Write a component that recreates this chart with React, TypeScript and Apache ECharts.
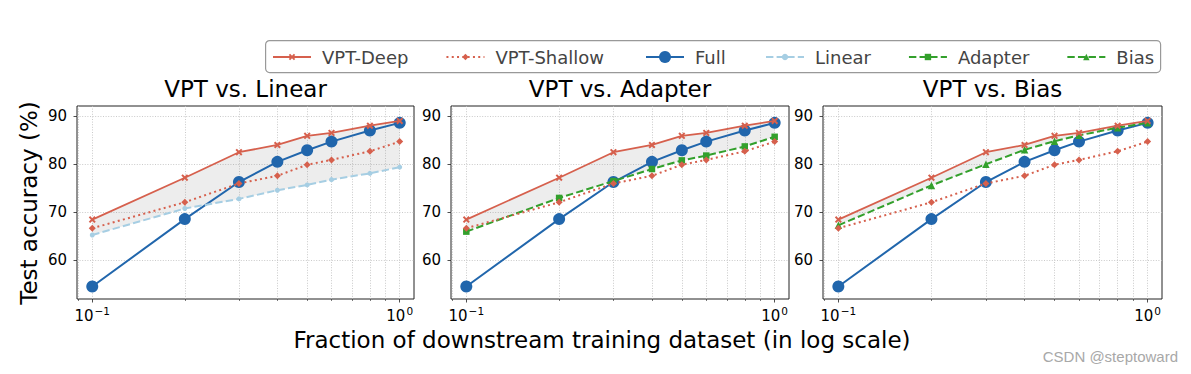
import React, { useEffect, useRef } from 'react';
import * as echarts from 'echarts';

// ---- data ----
const fractions = [0.1, 0.2, 0.3, 0.4, 0.5, 0.6, 0.8, 1.0];
const vptDeep = [68.5, 77.2, 82.5, 84.0, 85.9, 86.5, 88.0, 89.0];
const vptShallow = [66.7, 72.1, 76.0, 77.6, 79.9, 80.9, 82.7, 84.7];
const full = [54.6, 68.6, 76.3, 80.5, 82.9, 84.7, 87.0, 88.6];
const linear = [65.3, 70.8, 72.8, 74.6, 75.7, 76.8, 78.1, 79.4];
const adapter = [66.0, 73.0, 76.5, 79.0, 80.8, 81.8, 83.7, 85.7];
const bias = [67.3, 75.6, 80.0, 83.0, 84.8, 86.0, 87.6, 88.6];

const yTicks = [60, 70, 80, 90];
const xMajorTicks = [0.1, 1];
const xMinorTicks = [0.09, 0.2, 0.3, 0.4, 0.5, 0.6, 0.7, 0.8, 0.9];
const panelTitles = ['VPT vs. Linear', 'VPT vs. Adapter', 'VPT vs. Bias'];
const legendGroupA = ['VPT-Deep', 'VPT-Shallow'];
const legendGroupB = ['Full'];
const legendGroupC = ['Linear', 'Adapter', 'Bias'];

const FONT = 'DejaVu Sans';
const C_VPT = '#d6604d';
const C_FULL = '#2166ac';
const C_LINEAR = '#a6cee3';
const C_GREEN = '#33a02c';
const X_SYMBOL =
  'path://M2,0 L5,3 L8,0 L10,2 L7,5 L10,8 L8,10 L5,7 L2,10 L0,8 L3,5 L0,2 Z';

const baselines = [
  { name: 'Linear', values: linear, color: C_LINEAR, symbol: 'circle', size: 5, dash: [7.4, 3.2] },
  { name: 'Adapter', values: adapter, color: C_GREEN, symbol: 'rect', size: 6.5, dash: [7.4, 3.2] },
  { name: 'Bias', values: bias, color: C_GREEN, symbol: 'triangle', size: 7.5, dash: [7.4, 3.2] },
];

const gridLefts = [77, 451, 823];
const gridWidths = [337, 338, 339];
const GRID_TOP = 106;
const GRID_H = 193;
const X_MIN = 0.0892;
const X_MAX = 1.113;
const Y_MIN = 52;
const Y_MAX = 92.1;

const pairs = (vals: number[]) => fractions.map((x, k) => [x, vals[k]]);

function legendPart(names: string[], left: number, itemHeight: number) {
  return {
    data: names,
    top: 48,
    left,
    itemWidth: 38,
    itemHeight,
    itemGap: 37,
    padding: 0,
    selectedMode: false,
    textStyle: { fontSize: 18, fontFamily: FONT, color: '#444', padding: [0, 0, 0, 6] },
  };
}

function buildOption() {
  const grid: any[] = [];
  const xAxis: any[] = [];
  const yAxis: any[] = [];
  const series: any[] = [];
  const graphic: any[] = [];
  const gridLine = { show: true, lineStyle: { color: '#bdbdbd', width: 0.8, type: [1, 1.6] } };

  for (let i = 0; i < 3; i++) {
    grid.push({
      left: gridLefts[i],
      top: GRID_TOP,
      width: gridWidths[i],
      height: GRID_H,
      show: true,
      borderColor: '#222',
      borderWidth: 1,
      backgroundColor: 'transparent',
    });
    // main x axis (major ticks + labels)
    xAxis.push({
      type: 'log',
      logBase: 10,
      gridIndex: i,
      position: 'bottom',
      offset: 0,
      min: X_MIN,
      max: X_MAX,
      axisLine: { show: false, onZero: false },
      axisTick: { show: true, customValues: xMajorTicks, length: 3.5, lineStyle: { color: '#222', width: 0.8 } },
      axisLabel: {
        customValues: xMajorTicks,
        margin: 6,
        formatter: (v: number) => {
          const e = Math.round(Math.log10(v));
          return '{b|10}{s|' + (e < 0 ? '\u2212' + -e : String(e)) + '}';
        },
        rich: {
          b: { fontSize: 15, fontFamily: FONT, color: '#000', verticalAlign: 'bottom' },
          s: {
            fontSize: 10.5,
            fontFamily: FONT,
            color: '#000',
            verticalAlign: 'top',
            padding: [0, 0, 7.5, 1],
          },
        },
      },
      splitLine: gridLine,
    });
    // minor x axis (minor ticks + minor grid)
    xAxis.push({
      type: 'log',
      logBase: 10,
      gridIndex: i,
      position: 'bottom',
      offset: 0,
      min: X_MIN,
      max: X_MAX,
      axisLine: { show: false, onZero: false },
      axisTick: { show: true, customValues: xMinorTicks, length: 2, lineStyle: { color: '#222', width: 0.6 } },
      axisLabel: { show: false },
      splitLine: gridLine,
    });
    yAxis.push({
      type: 'value',
      gridIndex: i,
      min: Y_MIN,
      max: Y_MAX,
      axisLine: { show: false },
      axisTick: { show: true, customValues: yTicks, length: 3.5, lineStyle: { color: '#222', width: 0.8 } },
      axisLabel: { customValues: yTicks, fontSize: 15, fontFamily: FONT, color: '#000', margin: 10 },
      splitLine: gridLine,
    });

    const base = baselines[i];
    const xi = 2 * i;
    // shaded region between VPT-Deep and the baseline
    series.push({
      type: 'custom',
      xAxisIndex: xi,
      yAxisIndex: i,
      silent: true,
      z: 1,
      encode: { x: 0, y: [1, 2] },
      data: fractions.map((x, k) => [x, vptDeep[k], base.values[k]]),
      renderItem: (params: any, api: any) => {
        if (params.dataIndex !== 0) return null;
        const top = fractions.map((x, k) => api.coord([x, vptDeep[k]]));
        const bot = fractions.map((x, k) => api.coord([x, base.values[k]])).reverse();
        return {
          type: 'polygon',
          shape: { points: top.concat(bot) },
          style: { fill: 'rgba(128,128,128,0.14)', stroke: 'none' },
        };
      },
    });
    series.push({
      name: 'Full',
      type: 'line',
      xAxisIndex: xi,
      yAxisIndex: i,
      data: pairs(full),
      symbol: 'circle',
      symbolSize: 12,
      lineStyle: { color: C_FULL, width: 2 },
      itemStyle: { color: C_FULL },
      z: 2,
    });
    series.push({
      name: base.name,
      type: 'line',
      xAxisIndex: xi,
      yAxisIndex: i,
      data: pairs(base.values),
      symbol: base.symbol,
      symbolSize: base.size,
      lineStyle: { color: base.color, width: 2, type: base.dash },
      itemStyle: { color: base.color },
      z: 3,
    });
    series.push({
      name: 'VPT-Deep',
      type: 'line',
      xAxisIndex: xi,
      yAxisIndex: i,
      data: pairs(vptDeep),
      symbol: X_SYMBOL,
      symbolSize: 7,
      lineStyle: { color: C_VPT, width: 1.8 },
      itemStyle: { color: C_VPT },
      z: 4,
    });
    series.push({
      name: 'VPT-Shallow',
      type: 'line',
      xAxisIndex: xi,
      yAxisIndex: i,
      data: pairs(vptShallow),
      symbol: 'diamond',
      symbolSize: 7,
      lineStyle: { color: C_VPT, width: 2, type: [2, 3.3] },
      itemStyle: { color: C_VPT },
      z: 4,
    });

    graphic.push({
      type: 'text',
      x: gridLefts[i] + gridWidths[i] / 2,
      y: 89,
      style: {
        text: panelTitles[i],
        fontSize: 23,
        fontFamily: FONT,
        fill: '#000',
        align: 'center',
        verticalAlign: 'middle',
      },
    });
  }

  // legend frame
  graphic.push({
    type: 'rect',
    left: 265,
    top: 40,
    shape: { width: 895, height: 32, r: 4 },
    style: { fill: 'rgba(255,255,255,0.8)', stroke: '#999', lineWidth: 1.2 },
    z: -1,
  });
  graphic.push({
    type: 'text',
    x: 29,
    y: 203,
    rotation: Math.PI / 2,
    style: {
      text: 'Test accuracy (%)',
      fontSize: 23,
      fontFamily: FONT,
      fill: '#000',
      align: 'center',
      verticalAlign: 'middle',
    },
  });
  graphic.push({
    type: 'text',
    x: 602,
    y: 340,
    style: {
      text: 'Fraction of downstream training dataset (in log scale)',
      fontSize: 23,
      fontFamily: FONT,
      fill: '#000',
      align: 'center',
      verticalAlign: 'middle',
    },
  });
  graphic.push({
    type: 'text',
    x: 1178,
    y: 356,
    style: {
      text: 'CSDN @steptoward',
      fontSize: 15,
      fontFamily: 'Liberation Sans',
      fill: '#a8a8a8',
      align: 'right',
      verticalAlign: 'middle',
    },
  });

  return {
    animation: false,
    backgroundColor: '#fff',
    legend: [
      legendPart(legendGroupA, 272, 8),
      legendPart(legendGroupB, 645, 15),
      legendPart(legendGroupC, 765, 8),
    ],
    grid,
    xAxis,
    yAxis,
    series,
    graphic,
  };
}

export default function App() {
  const ref = useRef<HTMLDivElement>(null);
  useEffect(() => {
    document.body.style.margin = '0';
    if (!ref.current) return;
    const chart = echarts.init(ref.current, undefined, { renderer: 'svg' });
    chart.setOption(buildOption() as any);
    return () => chart.dispose();
  }, []);
  return <div ref={ref} style={{ width: 1191, height: 374 }} />;
}
